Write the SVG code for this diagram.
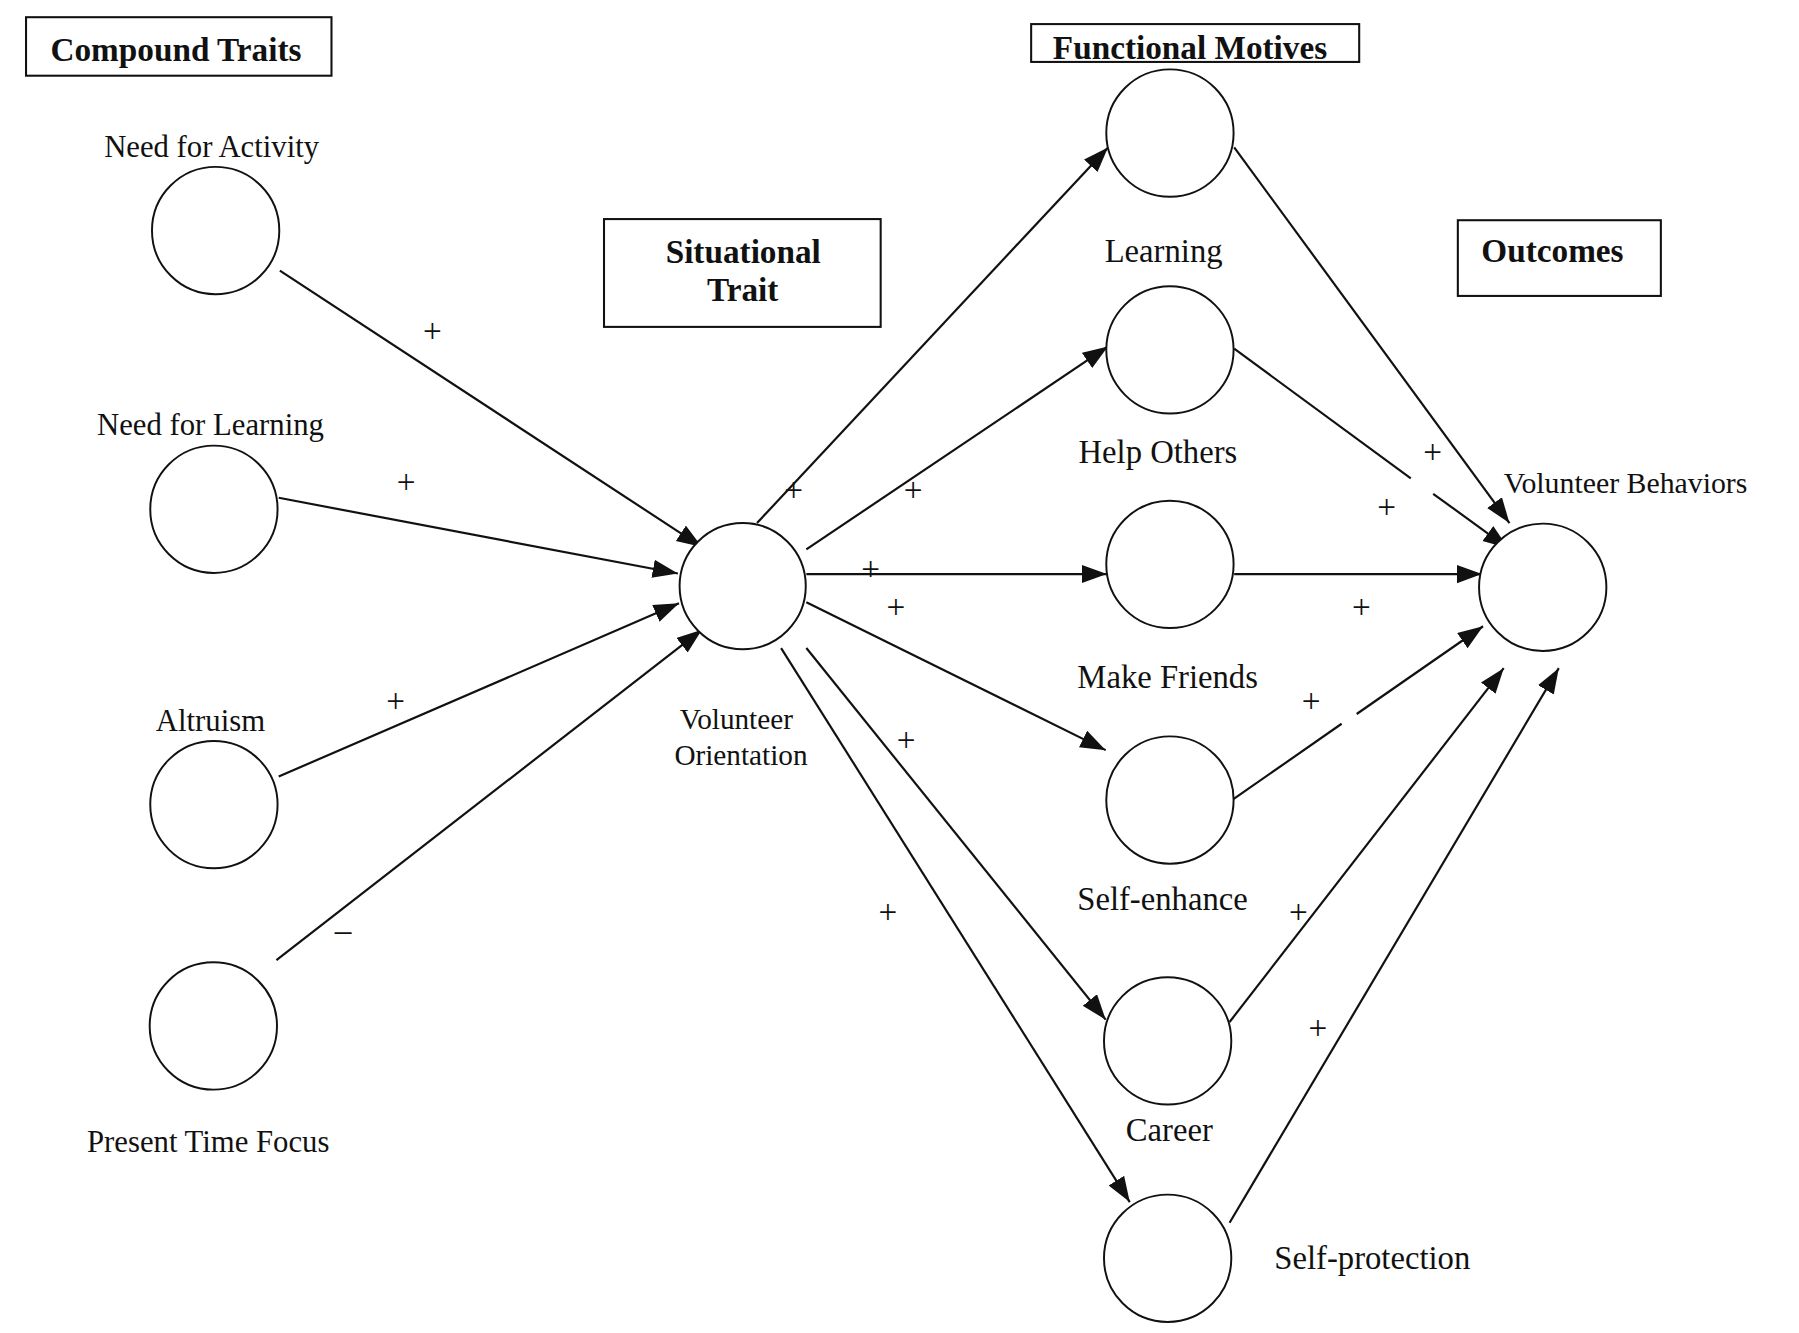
<svg xmlns="http://www.w3.org/2000/svg" width="1799" height="1333" viewBox="0 0 1799 1333">
<style>
  .bx { fill: none; stroke: #111; stroke-width: 1.8; }
  .nd { fill: #fff; stroke: #111; stroke-width: 1.7; }
  .hd { font-family: "Liberation Serif", "Times New Roman", serif; font-weight: bold; font-size: 29px; fill: #111; text-anchor: middle; }
  .lb { font-family: "Liberation Serif", "Times New Roman", serif; font-size: 26.8px; fill: #111; text-anchor: middle; }
  .lm { font-family: "Liberation Serif", "Times New Roman", serif; font-size: 28.5px; fill: #111; text-anchor: middle; }
  .sg { font-family: "Liberation Serif", "Times New Roman", serif; font-size: 29px; fill: #111; text-anchor: middle; }
  .cn { fill: none; stroke: #111; stroke-width: 1.9; }
</style>
<defs>
  <marker id="ah" markerUnits="userSpaceOnUse" markerWidth="24" markerHeight="18" refX="22" refY="8" orient="auto" viewBox="0 0 24 18">
    <path d="M0,0 L22,8 L0,16 z" fill="#111"/>
  </marker>
</defs>
<rect width="1799" height="1333" fill="#fff"/>
<g transform="scale(1.147)">
  <g id="connectors">
    <path class="cn" d="M244,236 L612,477" marker-end="url(#ah)"/>
    <path class="cn" d="M243,434 L591,500" marker-end="url(#ah)"/>
    <path class="cn" d="M243,677 L592,526" marker-end="url(#ah)"/>
    <path class="cn" d="M241,837 L612,549" marker-end="url(#ah)"/>
    <path class="cn" d="M660,456 L966,128.5" marker-end="url(#ah)"/>
    <path class="cn" d="M703,479 L966,302" marker-end="url(#ah)"/>
    <path class="cn" d="M703,500.5 L965,500.5" marker-end="url(#ah)"/>
    <path class="cn" d="M703,525 L964,654" marker-end="url(#ah)"/>
    <path class="cn" d="M703,565 L964,889" marker-end="url(#ah)"/>
    <path class="cn" d="M681,565 L985,1048" marker-end="url(#ah)"/>
    <path class="cn" d="M1076,128.5 L1316,456" marker-end="url(#ah)"/>
    <path class="cn" d="M1076,304 L1230,417"/>
    <path class="cn" d="M1249.5,430.5 L1315,478" marker-end="url(#ah)"/>
    <path class="cn" d="M1076,500.5 L1292,500.5" marker-end="url(#ah)"/>
    <path class="cn" d="M1075,697 L1169.7,631"/>
    <path class="cn" d="M1182.8,622.5 L1293,546" marker-end="url(#ah)"/>
    <path class="cn" d="M1072,891 L1311,582.5" marker-end="url(#ah)"/>
    <path class="cn" d="M1072,1066 L1359,582.5" marker-end="url(#ah)"/>
    <text class="sg" x="377" y="298">+</text>
    <text class="sg" x="354" y="430">+</text>
    <text class="sg" x="345" y="621">+</text>
    <text class="sg" x="299" y="820">–</text>
    <text class="sg" x="692" y="437">+</text>
    <text class="sg" x="796" y="437">+</text>
    <text class="sg" x="759" y="506">+</text>
    <text class="sg" x="781" y="539">+</text>
    <text class="sg" x="790" y="655">+</text>
    <text class="sg" x="774" y="805">+</text>
    <text class="sg" x="1249" y="404">+</text>
    <text class="sg" x="1209" y="452">+</text>
    <text class="sg" x="1187" y="539">+</text>
    <text class="sg" x="1143" y="621">+</text>
    <text class="sg" x="1132" y="805">+</text>
    <text class="sg" x="1149" y="906">+</text>
  </g>
  <g id="hdr-compound">
    <rect class="bx" x="22.7" y="15" width="266.3" height="51"/>
    <text class="hd" x="153.4" y="53">Compound Traits</text>
  </g>
  <g id="hdr-situational">
    <rect class="bx" x="526.6" y="191" width="241.2" height="94"/>
    <text class="hd" x="648" y="229">Situational</text>
    <text class="hd" x="647.5" y="262">Trait</text>
  </g>
  <g id="hdr-functional">
    <rect class="bx" x="899" y="21" width="286" height="33"/>
    <text class="hd" x="1037.5" y="51.6">Functional Motives</text>
  </g>
  <g id="hdr-outcomes">
    <rect class="bx" x="1271" y="192" width="177" height="66"/>
    <text class="hd" x="1353.5" y="228.6">Outcomes</text>
  </g>
  <g id="need-activity">
    <circle class="nd" cx="188" cy="201" r="55.5"/>
    <text class="lb" x="184.5" y="137">Need for Activity</text>
  </g>
  <g id="need-learning">
    <circle class="nd" cx="186.5" cy="444" r="55.5"/>
    <text class="lb" x="183.5" y="379">Need for Learning</text>
  </g>
  <g id="altruism">
    <circle class="nd" cx="186.5" cy="701.5" r="55.5"/>
    <text class="lb" x="183.5" y="637">Altruism</text>
  </g>
  <g id="present-time-focus">
    <circle class="nd" cx="186" cy="894.5" r="55.5"/>
    <text class="lb" x="181.5" y="1004">Present Time Focus</text>
  </g>
  <g id="volunteer-orientation">
    <circle class="nd" cx="647.5" cy="511" r="55"/>
    <text class="lb" style="font-size:25.5px" x="642" y="636">Volunteer</text>
    <text class="lb" style="font-size:25.5px" x="646" y="667">Orientation</text>
  </g>
  <g id="learning">
    <circle class="nd" cx="1020" cy="116" r="55.5"/>
    <text class="lm" x="1014.5" y="228.6">Learning</text>
  </g>
  <g id="help-others">
    <circle class="nd" cx="1020" cy="305" r="55.5"/>
    <text class="lm" x="1009.5" y="404">Help Others</text>
  </g>
  <g id="make-friends">
    <circle class="nd" cx="1020" cy="492" r="55.5"/>
    <text class="lm" x="1018" y="600">Make Friends</text>
  </g>
  <g id="self-enhance">
    <circle class="nd" cx="1020" cy="697.5" r="55.5"/>
    <text class="lm" x="1013.5" y="793">Self-enhance</text>
  </g>
  <g id="career">
    <circle class="nd" cx="1018" cy="907.5" r="55.5"/>
    <text class="lm" x="1019.5" y="995">Career</text>
  </g>
  <g id="self-protection">
    <circle class="nd" cx="1018" cy="1097" r="55.5"/>
    <text class="lm" style="text-anchor:start" x="1111" y="1106">Self-protection</text>
  </g>
  <g id="volunteer-behaviors">
    <circle class="nd" cx="1345" cy="512" r="55.5"/>
    <text class="lb" style="font-size:26px;text-anchor:start" x="1311" y="430">Volunteer Behaviors</text>
  </g>
</g>
</svg>
